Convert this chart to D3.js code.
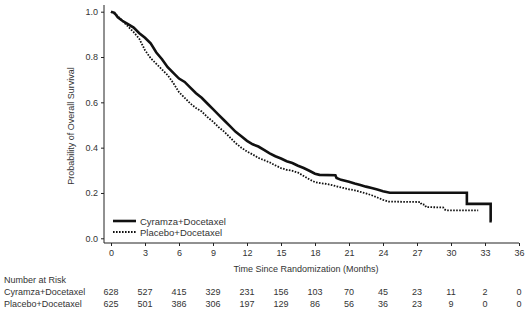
<!DOCTYPE html>
<html>
<head>
<meta charset="utf-8">
<script src="https://cdn.jsdelivr.net/npm/d3@7"></script>
<style>
  body { margin: 0; background: #fff; }
  svg text { font-family: "Liberation Sans", Arial, sans-serif; fill: #333; }
</style>
</head>
<body>
<div id="chart"></div>
<script>
// KM curves (months, probability); repeated times = vertical drops
var cyrTime = [0, 0.3, 0.6, 1, 1.5, 2, 2.5, 3, 3.5, 4, 4.5, 5, 5.5, 6, 6.5, 7, 7.5, 8, 8.5, 9, 9.5, 10, 10.5, 11, 11.5, 12, 12.5, 13, 13.5, 14, 14.5, 15, 15.5, 16, 16.5, 17, 17.5, 18, 18.4, 19.8, 19.9, 20.3, 21, 21.5, 22, 22.5, 23, 23.5, 24, 24.6, 31.4, 31.4, 33.5, 33.5, 33.6];
var cyrSurv = [1, 0.995, 0.975, 0.96, 0.945, 0.93, 0.905, 0.885, 0.86, 0.82, 0.79, 0.755, 0.73, 0.705, 0.69, 0.665, 0.64, 0.62, 0.595, 0.57, 0.545, 0.52, 0.495, 0.47, 0.45, 0.43, 0.415, 0.405, 0.39, 0.375, 0.362, 0.352, 0.34, 0.332, 0.32, 0.31, 0.298, 0.285, 0.28, 0.278, 0.266, 0.258, 0.25, 0.242, 0.235, 0.228, 0.222, 0.215, 0.208, 0.201, 0.201, 0.152, 0.152, 0.076, 0.076];

var plaTime = [0, 0.5, 1, 1.5, 2, 2.5, 3, 3.5, 4, 4.5, 5, 5.5, 6, 6.5, 7, 7.5, 8, 8.5, 9, 9.5, 10, 10.5, 11, 11.5, 12, 12.5, 13, 13.5, 14, 14.5, 15, 15.5, 16, 16.5, 17, 17.5, 18, 18.5, 19, 19.5, 20, 20.5, 21, 21.5, 22, 22.5, 23, 23.5, 24, 24.5, 27.3, 27.4, 27.7, 27.8, 29.3, 29.4, 29.6, 32.4];
var plaSurv = [1, 0.985, 0.96, 0.935, 0.91, 0.88, 0.83, 0.795, 0.77, 0.745, 0.72, 0.685, 0.645, 0.62, 0.595, 0.575, 0.56, 0.535, 0.515, 0.49, 0.47, 0.445, 0.42, 0.4, 0.383, 0.37, 0.355, 0.345, 0.335, 0.322, 0.31, 0.302, 0.298, 0.29, 0.275, 0.26, 0.248, 0.243, 0.24, 0.235, 0.228, 0.222, 0.216, 0.212, 0.205, 0.198, 0.19, 0.18, 0.17, 0.162, 0.16, 0.15, 0.148, 0.138, 0.136, 0.128, 0.123, 0.123];

var xTicks = [0, 3, 6, 9, 12, 15, 18, 21, 24, 27, 30, 33, 36];
var yTicks = [0, 0.2, 0.4, 0.6, 0.8, 1.0];
var seriesNames = ["Cyramza+Docetaxel", "Placebo+Docetaxel"];
var cyrRisk = [628, 527, 415, 329, 231, 156, 103, 70, 45, 23, 11, 2, 0];
var plaRisk = [625, 501, 386, 306, 197, 129, 86, 56, 36, 23, 9, 0, 0];

var W = 529, H = 323;
var svg = d3.select('#chart').append('svg').attr('width', W).attr('height', H);

var x = d3.scaleLinear().domain([0, 36]).range([111, 519]);
var y = d3.scaleLinear().domain([0, 1]).range([238.3, 11.7]);
var axisX = 104, axisY = 243;

// y axis
var gy = svg.append('g').attr('transform', 'translate(' + axisX + ',0)')
  .call(d3.axisLeft(y).tickValues(yTicks).tickSize(3).tickPadding(3).tickFormat(d3.format('.1f')));
gy.select('.domain').remove();
gy.append('line').attr('x1', 0).attr('x2', 0).attr('y1', 5).attr('y2', axisY).attr('stroke', '#222');
gy.selectAll('.tick line').attr('stroke', '#222');
gy.selectAll('text').style('font-size', '9px');

// x axis
var gx = svg.append('g').attr('transform', 'translate(0,' + axisY + ')')
  .call(d3.axisBottom(x).tickValues(xTicks).tickSize(3).tickPadding(4));
gx.select('.domain').remove();
gx.append('line').attr('x1', axisX).attr('x2', x(36)).attr('y1', 0).attr('y2', 0).attr('stroke', '#222');
gx.selectAll('.tick line').attr('stroke', '#222');
gx.selectAll('text').style('font-size', '9px');

svg.append('text').attr('x', 306).attr('y', 272).attr('text-anchor', 'middle')
  .style('font-size', '9px').text('Time Since Randomization (Months)');
svg.append('text').attr('transform', 'translate(74,126) rotate(-90)').attr('text-anchor', 'middle')
  .style('font-size', '9px').text('Probability of Overall Survival');

// curves
var line = d3.line()
  .x(function(d) { return x(d[0]); })
  .y(function(d) { return y(d[1]); });

var cyr = d3.zip(cyrTime, cyrSurv);
var pla = d3.zip(plaTime, plaSurv);

svg.append('path').datum(pla).attr('d', line).attr('fill', 'none')
  .attr('stroke', '#111').attr('stroke-width', 1.8).attr('stroke-dasharray', '1.6,1.4');
svg.append('path').datum(cyr).attr('d', line).attr('fill', 'none')
  .attr('stroke', '#111').attr('stroke-width', 2.6);

// legend
var leg = svg.append('g');
leg.append('line').attr('x1', 113).attr('x2', 136).attr('y1', 221).attr('y2', 221)
  .attr('stroke', '#111').attr('stroke-width', 2.6);
leg.append('line').attr('x1', 113).attr('x2', 136).attr('y1', 232).attr('y2', 232)
  .attr('stroke', '#111').attr('stroke-width', 1.8).attr('stroke-dasharray', '1.6,1.4');
leg.append('text').attr('x', 140).attr('y', 224.5).style('font-size', '9.5px').text(seriesNames[0]);
leg.append('text').attr('x', 140).attr('y', 235.5).style('font-size', '9.5px').text(seriesNames[1]);

// number at risk table
svg.append('text').attr('x', 4).attr('y', 283).style('font-size', '9px').text('Number at Risk');
[cyrRisk, plaRisk].forEach(function(row, i) {
  var yy = 295 + i * 12;
  svg.append('text').attr('x', 4).attr('y', yy).style('font-size', '9px').text(seriesNames[i]);
  svg.selectAll('.risk' + i).data(row).enter().append('text')
    .attr('class', 'risk' + i)
    .attr('x', function(d, j) { return x(xTicks[j]); })
    .attr('y', yy)
    .attr('text-anchor', 'middle')
    .style('font-size', '9px')
    .text(function(d) { return d; });
});
</script>
</body>
</html>
